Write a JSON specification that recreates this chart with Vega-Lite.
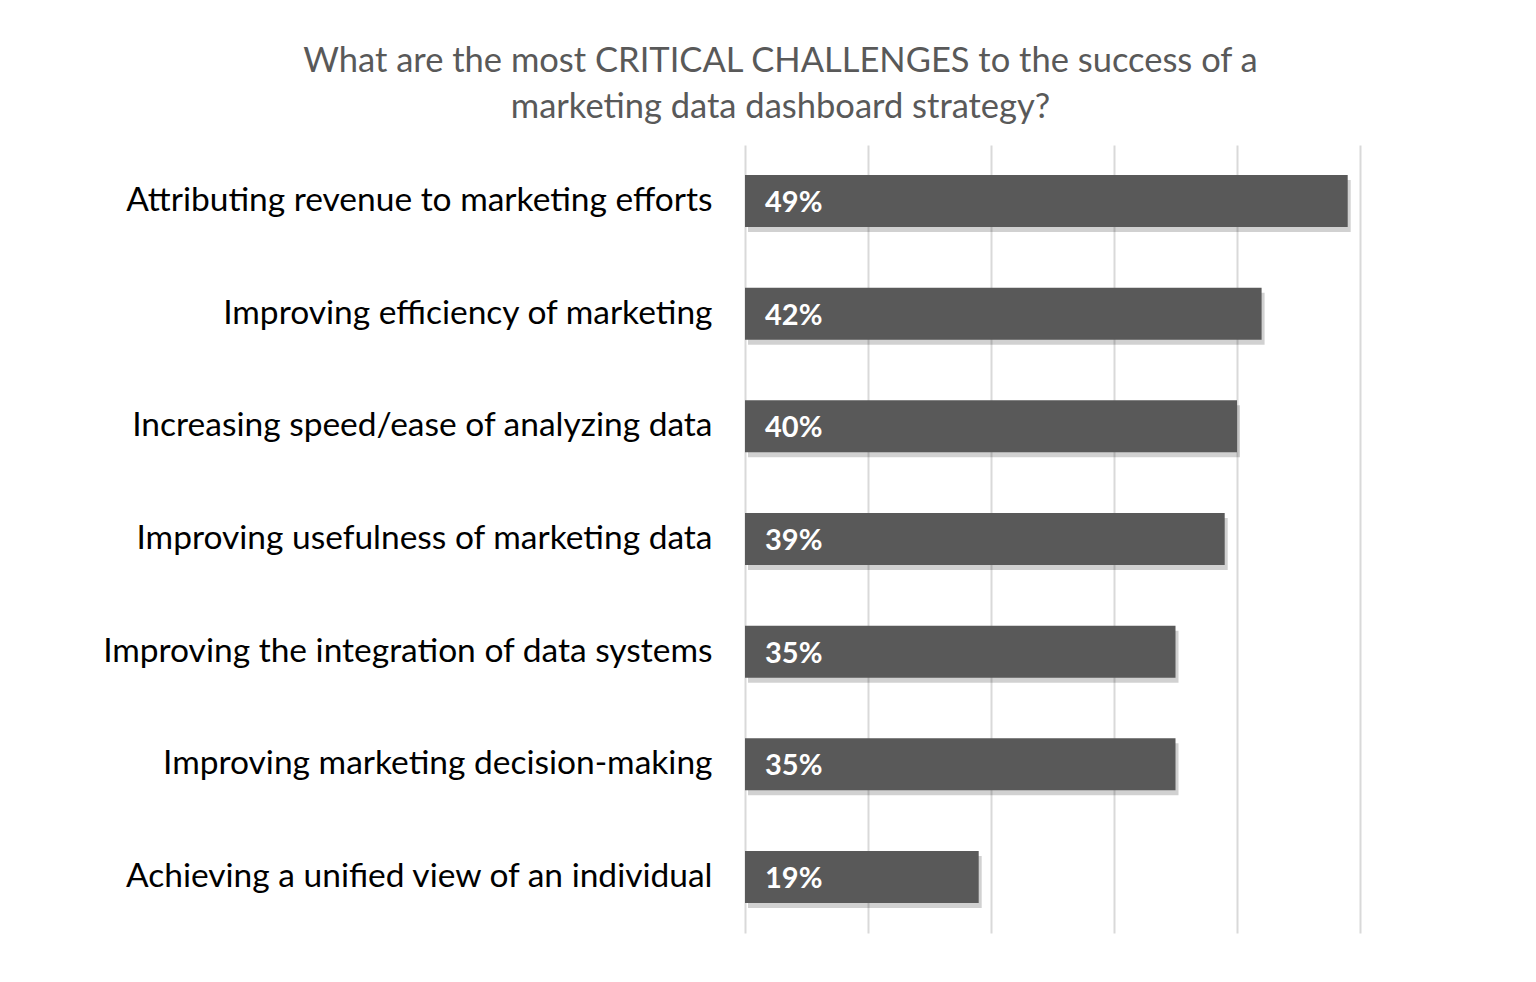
{
  "$schema": "https://vega.github.io/schema/vega-lite/v6.json",
  "description": "Horizontal bar chart of critical challenges to a marketing data dashboard strategy.",
  "width": 615,
  "height": 788,
  "autosize": {"type": "none"},
  "padding": {"left": 745, "top": 145, "right": 176, "bottom": 49},
  "background": "white",
  "title": {
    "text": ["What are the most CRITICAL CHALLENGES to the success of a", "marketing data dashboard strategy?"],
    "font": "Lato",
    "fontSize": 34.5,
    "fontWeight": "normal",
    "color": "#595959",
    "anchor": "middle",
    "frame": "group",
    "dx": -272,
    "offset": 20,
    "lineHeight": 46
  },
  "data": {
    "values": [
      {"challenge": "Attributing revenue to marketing efforts", "value": 0.49},
      {"challenge": "Improving efficiency of marketing", "value": 0.42},
      {"challenge": "Increasing speed/ease of analyzing data", "value": 0.40},
      {"challenge": "Improving usefulness of marketing data", "value": 0.39},
      {"challenge": "Improving the integration of data systems", "value": 0.35},
      {"challenge": "Improving marketing decision-making", "value": 0.35},
      {"challenge": "Achieving a unified view of an individual", "value": 0.19}
    ]
  },
  "encoding": {
    "y": {
      "field": "challenge",
      "type": "nominal",
      "sort": null,
      "title": null,
      "scale": {"paddingInner": 0.538, "paddingOuter": 0.266},
      "axis": {
        "ticks": false,
        "domain": false,
        "labelFont": "Lato",
        "labelFontSize": 33.5,
        "labelColor": "#000000",
        "labelPadding": 33,
        "labelLimit": 700
      }
    }
  },
  "layer": [
    {
      "mark": {"type": "bar", "color": "#000000", "opacity": 0.18, "xOffset": 3, "yOffset": 5},
      "encoding": {
        "x": {
          "field": "value",
          "type": "quantitative",
          "title": null,
          "scale": {"domain": [0, 0.5]},
          "axis": {
            "values": [0, 0.1, 0.2, 0.3, 0.4, 0.5],
            "labels": false,
            "ticks": false,
            "domain": false,
            "grid": true,
            "gridColor": "#d9d9d9",
            "gridWidth": 2
          }
        }
      }
    },
    {
      "mark": {"type": "bar", "color": "#595959"},
      "encoding": {
        "x": {"field": "value", "type": "quantitative"}
      }
    },
    {
      "mark": {"type": "text", "align": "left", "dx": 20, "dy": 2, "font": "Lato", "fontSize": 29, "fontWeight": "bold", "color": "white"},
      "encoding": {
        "x": {"datum": 0, "type": "quantitative"},
        "text": {"field": "value", "type": "quantitative", "format": ".0%"}
      }
    }
  ],
  "config": {"view": {"stroke": null}}
}
